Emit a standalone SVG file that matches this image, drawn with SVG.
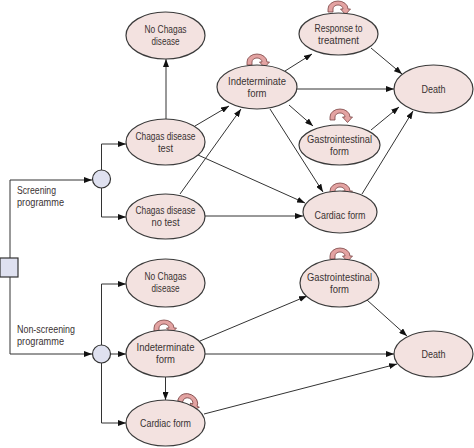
<svg xmlns="http://www.w3.org/2000/svg" width="474" height="448" viewBox="0 0 474 448">
<style>
.n{fill:#f3e2e0;stroke:#3a3a3a;stroke-width:1.2}
.t{font-family:"Liberation Sans",Arial,sans-serif;font-size:10.5px;fill:#3a3232;text-anchor:middle}
.l{font-family:"Liberation Sans",Arial,sans-serif;font-size:10.5px;fill:#3a3232}
.e{fill:none;stroke:#333;stroke-width:1}
.a{marker-end:url(#ah)}
.c{fill:#dfe1f0;stroke:#333;stroke-width:1.2}
.lp{fill:#e3a3a2;stroke:#7a4444;stroke-width:0.8}
</style>
<defs>
<marker id="ah" markerUnits="userSpaceOnUse" viewBox="0 0 8 6" markerWidth="8" markerHeight="6" refX="8" refY="3" orient="auto">
<path d="M0,0 L8,3 L0,6 z" fill="#111"/>
</marker>
<path id="loop" class="lp" d="M-10,3 L-10,0 A10,8 0 0 1 10,0 L12.5,0 L7.5,5.5 L2.5,0 L5,0 A5,4 0 0 0 -5,0 L-5,3 Z"/>
</defs>
<g id="connectors">
<path class="e a" d="M10,258 V180 H92"/>
<path class="e a" d="M10,277 V354 H92"/>
<path class="e a" d="M101.5,170 V144 H126"/>
<path class="e a" d="M101.5,188 V217 H126"/>
<path class="e a" d="M166,119 V59"/>
<path class="e a" d="M195,126 L229,106"/>
<path class="e a" d="M180,194 L241,109"/>
<path class="e a" d="M198,155 L305,203"/>
<path class="e a" d="M205,216 H303"/>
<path class="e a" d="M285,71 L312,54"/>
<path class="e a" d="M297,89 H394"/>
<path class="e a" d="M289,105 L313,126"/>
<path class="e a" d="M270,109 L323,192"/>
<path class="e a" d="M371,48 L402,74"/>
<path class="e a" d="M371,130 L399,107"/>
<path class="e a" d="M362,194 L413,111"/>
<path class="e a" d="M101.5,345 V284 H126"/>
<path class="e a" d="M111,354 H126"/>
<path class="e a" d="M101.5,363 V423 H126"/>
<path class="e a" d="M165.5,377 V400"/>
<path class="e a" d="M200,341 L307,296"/>
<path class="e a" d="M205,354 H394"/>
<path class="e a" d="M204,414 L397,364"/>
<path class="e a" d="M367,300 L407,336"/>
</g>
<g id="start"><rect class="c" x="0" y="258" width="18" height="19"/></g>
<g id="label-screening"><text class="l" x="17" y="194" textLength="39" lengthAdjust="spacingAndGlyphs">Screening</text><text class="l" x="17" y="206" textLength="47" lengthAdjust="spacingAndGlyphs">programme</text></g>
<g id="label-nonscreening"><text class="l" x="17" y="333" textLength="58" lengthAdjust="spacingAndGlyphs">Non-screening</text><text class="l" x="17" y="345" textLength="47" lengthAdjust="spacingAndGlyphs">programme</text></g>
<g id="chance1"><circle class="c" cx="101.5" cy="179" r="9"/></g>
<g id="chance2"><circle class="c" cx="101.5" cy="354" r="9"/></g>
<g id="noChagas1"><ellipse class="n" cx="165.5" cy="35.5" rx="39.5" ry="23.5"/><text class="t" x="165.5" y="33" textLength="42" lengthAdjust="spacingAndGlyphs">No Chagas</text><text class="t" x="165.5" y="45" textLength="28" lengthAdjust="spacingAndGlyphs">disease</text></g>
<g id="test"><ellipse class="n" cx="165.5" cy="142" rx="39.5" ry="23"/><text class="t" x="165.5" y="140" textLength="60" lengthAdjust="spacingAndGlyphs">Chagas disease</text><text class="t" x="165.5" y="152" textLength="15" lengthAdjust="spacingAndGlyphs">test</text></g>
<g id="noTest"><ellipse class="n" cx="165.5" cy="216.5" rx="39.5" ry="22.5"/><text class="t" x="165.5" y="214" textLength="60" lengthAdjust="spacingAndGlyphs">Chagas disease</text><text class="t" x="165.5" y="226" textLength="28" lengthAdjust="spacingAndGlyphs">no test</text></g>
<g id="indet1"><use href="#loop" x="257" y="62"/><ellipse class="n" cx="257" cy="87" rx="40" ry="22"/><text class="t" x="257" y="85" textLength="58" lengthAdjust="spacingAndGlyphs">Indeterminate</text><text class="t" x="257" y="97" textLength="19" lengthAdjust="spacingAndGlyphs">form</text></g>
<g id="response"><use href="#loop" x="338" y="9"/><ellipse class="n" cx="338.5" cy="34" rx="39.5" ry="21"/><text class="t" x="338.5" y="32" textLength="48" lengthAdjust="spacingAndGlyphs">Response to</text><text class="t" x="338.5" y="44" textLength="41" lengthAdjust="spacingAndGlyphs">treatment</text></g>
<g id="death1"><ellipse class="n" cx="433.5" cy="89" rx="39.5" ry="24"/><text class="t" x="433.5" y="93" textLength="24" lengthAdjust="spacingAndGlyphs">Death</text></g>
<g id="gastro1"><use href="#loop" x="340" y="117"/><ellipse class="n" cx="339.5" cy="145" rx="40.5" ry="20"/><text class="t" x="339.5" y="143" textLength="65" lengthAdjust="spacingAndGlyphs">Gastrointestinal</text><text class="t" x="339.5" y="155" textLength="19" lengthAdjust="spacingAndGlyphs">form</text></g>
<g id="cardiac1"><use href="#loop" x="340" y="191"/><ellipse class="n" cx="340" cy="212" rx="37" ry="21"/><text class="t" x="340" y="219" textLength="51" lengthAdjust="spacingAndGlyphs">Cardiac form</text></g>
<g id="noChagas2"><ellipse class="n" cx="165.5" cy="283" rx="39.5" ry="24"/><text class="t" x="165.5" y="280" textLength="42" lengthAdjust="spacingAndGlyphs">No Chagas</text><text class="t" x="165.5" y="292" textLength="28" lengthAdjust="spacingAndGlyphs">disease</text></g>
<g id="indet2"><use href="#loop" x="164" y="328"/><ellipse class="n" cx="165.5" cy="353.5" rx="39.5" ry="23.5"/><text class="t" x="165.5" y="351" textLength="58" lengthAdjust="spacingAndGlyphs">Indeterminate</text><text class="t" x="165.5" y="363" textLength="19" lengthAdjust="spacingAndGlyphs">form</text></g>
<g id="cardiac2"><use href="#loop" transform="translate(188,402) rotate(25)"/><ellipse class="n" cx="165.5" cy="423" rx="39.5" ry="23"/><text class="t" x="165.5" y="427" textLength="51" lengthAdjust="spacingAndGlyphs">Cardiac form</text></g>
<g id="gastro2"><use href="#loop" x="340" y="256"/><ellipse class="n" cx="339.5" cy="283" rx="39.5" ry="24"/><text class="t" x="339.5" y="281" textLength="65" lengthAdjust="spacingAndGlyphs">Gastrointestinal</text><text class="t" x="339.5" y="293" textLength="19" lengthAdjust="spacingAndGlyphs">form</text></g>
<g id="death2"><ellipse class="n" cx="433.5" cy="354" rx="39.5" ry="23"/><text class="t" x="433.5" y="358" textLength="24" lengthAdjust="spacingAndGlyphs">Death</text></g>
</svg>
